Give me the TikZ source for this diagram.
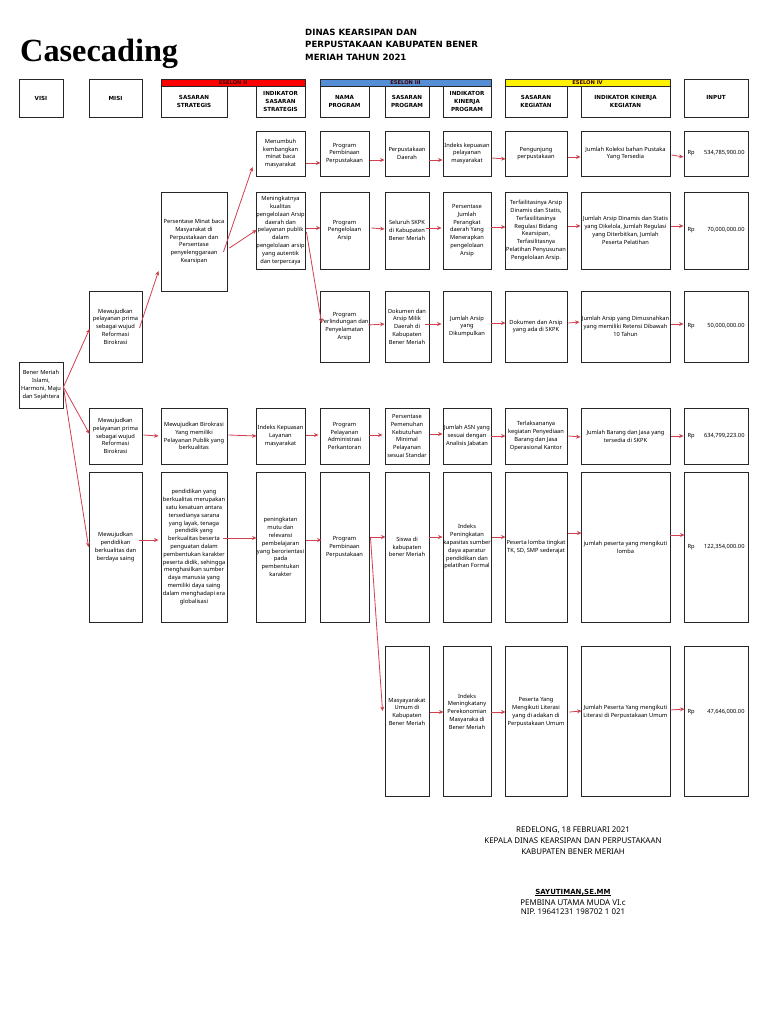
\documentclass[tikz,border=0pt]{standalone}
\usepackage{fontspec}
\setmainfont{Noto Sans}
\newfontfamily\djv{DejaVu Sans}
\newfontfamily\lserif{Liberation Serif}
\usetikzlibrary{arrows.meta}
\definecolor{linkred}{HTML}{D0404E}
\definecolor{barblue}{HTML}{558ED5}
\tikzset{
  box/.style={draw=black!85,line width=0.9pt,inner sep=0pt,align=center,font=\fontsize{5.7}{7.8}\selectfont,text=black},
  headbox/.style={box,font=\djv\fontsize{5.6}{7.8}\selectfont\bfseries},
  bar/.style={box,font=\djv\fontsize{5.2}{6}\selectfont\bfseries,text=black!75!red},
  link/.style={draw=linkred,line width=0.8pt,-{Stealth[length=4.5pt,width=4pt]}},
  sign/.style={inner sep=0pt,font=\fontsize{7.9}{9}\selectfont,text=black}
}
% box from (x1,y1) to (x2,y2)
\newcommand{\bx}[7][box]{%
  \pgfmathsetmacro{\cxx}{(#3+#5)/2}\pgfmathsetmacro{\cyy}{(#4+#6)/2}%
  \pgfmathsetmacro{\wdd}{#5-#3}\pgfmathsetmacro{\htt}{#6-#4}%
  \node[#1,minimum width=\wdd pt,minimum height=\htt pt] (#2) at (\cxx,\cyy) {#7};}
% connector: from east of a (shifted) to west of b (shifted)
\newcommand{\cn}[6]{\draw[link] ([shift={(#2,#3)}]#1.east) -- ([shift={(#5,#6)}]#4.west);}
\newcommand{\rup}{\\[11pt]\hspace{0pt}}
\newcommand{\rp}[1]{\makebox[57pt]{Rp\hfill #1}}
\begin{document}
\begin{tikzpicture}[x=1pt,y=-1pt]
\useasboundingbox (0,0) rectangle (768,1024);
\fill[white] (0,0) rectangle (768,1024);
% titles
\node[inner sep=0pt,anchor=base west,font=\lserif\fontsize{32.3}{34}\selectfont\bfseries] (title) at (20,62) {Casecading};
\node[inner sep=0pt,anchor=north west,font=\djv\fontsize{8.6}{12.6}\selectfont\bfseries,align=left] (org) at (305,28.5) {DINAS KEARSIPAN DAN\\PERPUSTAKAAN KABUPATEN BENER\\MERIAH TAHUN 2021};
% eselon bars
\bx[bar,fill=red]{e2}{161}{79}{305}{86}{ESELON II}
\bx[bar,fill=barblue]{e3}{320}{79}{491}{86}{ESELON III}
\bx[bar,fill=yellow]{e4}{505}{79}{670}{86}{ESELON IV}
% headers
\bx[headbox]{hv}{19}{79}{63}{117}{VISI}
\bx[headbox]{hm}{89}{79}{142}{117}{MISI}
\bx[headbox]{hss}{161}{86}{227}{117}{SASARAN\\STRATEGIS}
\bx[headbox]{hiss}{256}{86}{305}{117}{INDIKATOR\\SASARAN\\STRATEGIS}
\bx[headbox]{hnp}{320}{86}{369}{117}{NAMA\\PROGRAM}
\bx[headbox]{hsp}{385}{86}{429}{117}{SASARAN\\PROGRAM}
\bx[headbox]{hikp}{443}{86}{491}{117}{INDIKATOR\\KINERJA\\PROGRAM}
\bx[headbox]{hsk}{505}{86}{567}{117}{SASARAN\\KEGIATAN}
\bx[headbox]{hikk}{581}{86}{670}{117}{INDIKATOR KINERJA\\KEGIATAN}
\bx[headbox]{hin}{684}{79}{748}{117}{INPUT}
% left columns
\bx{v}{19}{362}{63}{408}{Bener Meriah\\Islami,\\Harmoni, Maju\\dan Sejahtera}
\bx{m1}{89}{291}{142}{362}{Mewujudkan\\pelayanan prima\\sebagai wujud\\Reformasi\\Birokrasi}
\bx{m2}{89}{408}{142}{464}{Mewujudkan\\pelayanan prima\\sebagai wujud\\Reformasi\\Birokrasi}
\bx{m3}{89}{472}{142}{622}{Mewujudkan\\pendidikan\\berkualitas dan\\berdaya saing}
\bx{ss1}{161}{192}{227}{291}{Persentase Minat baca\\Masyarakat di\\Perpustakaan dan\\Persentase\\penyelenggaraan\\Kearsipan}
\bx{ss2}{161}{408}{227}{464}{Mewujudkan Birokrasi\\Yang memiliki\\Pelayanan Publik yang\\berkualitas}
\bx{ss3}{161}{472}{227}{622}{pendidikan yang\\berkualitas merupakan\\satu kesatuan antara\\tersedianya sarana\\yang layak, tenaga\\pendidik yang\\berkualitas beserta\\penguatan dalam\\pembentukan karakter\\peserta didik, sehingga\\menghasilkan sumber\\daya manusia yang\\memiliki daya saing\\dalam menghadapi era\\globalisasi}
% indikator sasaran strategis
\bx{iss1}{256}{131}{305}{176}{Menumbuh\\kembangkan\\minat baca\\masyarakat}
\bx{iss2}{256}{192}{305}{269}{Meningkatnya\\kualitas\\pengelolaan Arsip\\daerah dan\\pelayanan publik\\dalam\\pengelolaan arsip\\yang autentik\\dan terpercaya}
\bx{iss4}{256}{408}{305}{464}{Indeks Kepuasan\\Layanan\\masyarakat}
\bx{iss5}{256}{472}{305}{622}{peningkatan\\mutu dan\\relevansi\\pembelajaran\\yang berorientasi\\pada\\pembentukan\\karakter}
% nama program
\bx{np1}{320}{131}{369}{176}{Program\\Pembinaan\\Perpustakaan}
\bx{np2}{320}{192}{369}{269}{Program\\Pengelolaan\\Arsip}
\bx{np3}{320}{291}{369}{362}{Program\\Perlindungan dan\\Penyelamatan\\Arsip}
\bx{np4}{320}{408}{369}{464}{Program\\Pelayanan\\Administrasi\\Perkantoran}
\bx{np5}{320}{472}{369}{622}{Program\\Pembinaan\\Perpustakaan}
% sasaran program
\bx{sp1}{385}{131}{429}{176}{Perpustakaan\\Daerah}
\bx{sp2}{385}{192}{429}{269}{Seluruh SKPK\\di Kabupaten\\Bener Meriah}
\bx{sp3}{385}{291}{429}{362}{Dokumen dan\\Arsip Milik\\Daerah di\\Kabupaten\\Bener Meriah}
\bx{sp4}{385}{408}{429}{464}{Persentase\\Pemenuhan\\Kebutuhan\\Minimal\\Pelayanan\\sesuai Standar}
\bx{sp5}{385}{472}{429}{622}{Siswa di\\kabupaten\\bener Meriah}
\bx{sp6}{385}{646}{429}{796}{Masyayarakat\\Umum di\\Kabupaten\\Bener Meriah\rup}
% indikator kinerja program
\bx{ikp1}{443}{131}{491}{176}{Indeks kepuasan\\pelayanan\\masyarakat}
\bx{ikp2}{443}{192}{491}{269}{Persentase\\Jumlah\\Perangkat\\daerah Yang\\Menerapkan\\pengelolaan\\Arsip}
\bx{ikp3}{443}{291}{491}{362}{Jumlah Arsip\\yang\\Dikumpulkan}
\bx{ikp4}{443}{408}{491}{464}{Jumlah ASN yang\\sesuai dengan\\Analisis Jabatan}
\bx{ikp5}{443}{472}{491}{622}{Indeks\\Peningkatan\\kapasitas sumber\\daya aparatur\\pendidikan dan\\pelatihan Formal}
\bx{ikp6}{443}{646}{491}{796}{Indeks\\Meningkatany\\Perekonomian\\Masyaraka di\\Bener Meriah\rup}
% sasaran kegiatan
\bx{sk1}{505}{131}{567}{176}{Pengunjung\\perpustakaan}
\bx{sk2}{505}{192}{567}{269}{Terfailitasinya Arsip\\Dinamis dan Statis,\\Terfasilitasinya\\Regulasi Bidang\\Kearsipan,\\Terfasilitasnya\\Pelatihan Penyusunan\\Pengelolaan Arsip.}
\bx{sk3}{505}{291}{567}{362}{Dokumen dan Arsip\\yang ada di SKPK}
\bx{sk4}{505}{408}{567}{464}{Terlaksananya\\kegiatan Penyediaan\\Barang dan Jasa\\Operasional Kantor}
\bx{sk5}{505}{472}{567}{622}{Peserta lomba tingkat\\TK, SD, SMP sederajat}
\bx{sk6}{505}{646}{567}{796}{Peserta Yang\\Mengikuti Literasi\\yang di adakan di\\Perpustakaan Umum\rup}
% indikator kinerja kegiatan
\bx{ikk1}{581}{131}{670}{176}{Jumlah Koleksi bahan Pustaka\\Yang Tersedia}
\bx{ikk2}{581}{192}{670}{269}{Jumlah Arsip Dinamis dan Statis\\yang Dikelola, Jumlah Regulasi\\yang Diterbitkan, Jumlah\\Peserta Pelatihan}
\bx{ikk3}{581}{291}{670}{362}{Jumlah Arsip yang Dimusnahkan\\yang memiliki Retensi Dibawah\\10 Tahun}
\bx{ikk4}{581}{408}{670}{464}{Jumlah Barang dan Jasa yang\\tersedia di SKPK}
\bx{ikk5}{581}{472}{670}{622}{jumlah peserta yang mengikuti\\lomba}
\bx{ikk6}{581}{646}{670}{796}{Jumlah Peserta Yang mengikuti\\Literasi di Perpustakaan Umum\rup}
% input
\bx{in1}{684}{131}{748}{176}{\rp{534,785,900.00}}
\bx{in2}{684}{192}{748}{269}{\rp{70,000,000.00}}
\bx{in3}{684}{291}{748}{362}{\rp{50,000,000.00}}
\bx{in4}{684}{408}{748}{464}{\rp{634,799,223.00}}
\bx{in5}{684}{472}{748}{622}{\rp{122,354,000.00}}
\bx{in6}{684}{646}{748}{796}{\rp{47,646,000.00}\rup}
% connectors
\cn{v}{0}{2}{m1}{1}{2.5}
\cn{v}{0}{2}{m2}{1}{-2}
\cn{v}{0}{2}{m3}{0}{0}
\cn{m1}{-3}{1.5}{ss1}{-2}{29.5}
\cn{ss1}{-4}{10.5}{iss1}{-3}{13.5}
\cn{ss1}{2}{6.5}{iss2}{1}{-0.5}
\cn{iss1}{1}{9.5}{np1}{1}{9.5}
\cn{np1}{1}{6.5}{sp1}{0}{6.5}
\cn{sp1}{0}{6.5}{ikp1}{0}{6.5}
\cn{ikp1}{0}{4.5}{sk1}{1}{5.5}
\cn{sk1}{1}{3.5}{ikk1}{0}{3.5}
\cn{ikk1}{1}{1.5}{in1}{0}{3.5}
\cn{iss2}{1}{-2.5}{np2}{1}{-2.5}
\cn{np2}{2}{-2.5}{sp2}{0}{-1.5}
\cn{sp2}{-3}{-2.5}{ikp2}{-1}{-2.5}
\cn{ikp2}{0}{-3.5}{sk2}{1}{-3.5}
\cn{sk2}{1}{-4.5}{ikk2}{0}{-4.5}
\cn{ikk2}{1}{-4.5}{in2}{0}{-4.5}
\cn{iss2}{1}{1.5}{np3}{2}{-3.5}
\cn{np3}{-1}{-1.5}{sp3}{0}{-2.5}
\cn{sp3}{-4}{-2.5}{ikp3}{-1}{-2.5}
\cn{ikp3}{0}{-3.5}{sk3}{1}{-3.5}
\cn{sk3}{1}{-3.5}{ikk3}{-1}{-4.5}
\cn{ikk3}{1}{-2.5}{in3}{0}{-2.5}
\cn{m2}{1}{-1}{ss2}{-2}{0}
\cn{ss2}{1}{-1}{iss4}{1}{0}
\cn{iss4}{1}{-1}{np4}{-1}{-1}
\cn{np4}{0}{-1}{sp4}{-2}{-1}
\cn{sp4}{1}{-2}{ikp4}{0}{-2}
\cn{ikp4}{0}{0}{sk4}{1}{0}
\cn{sk4}{1}{0}{ikk4}{0}{1}
\cn{ikk4}{1}{0}{in4}{0}{0}
\cn{m3}{-3}{-7}{ss3}{-2}{-7}
\cn{ss3}{-4}{-9}{iss5}{1}{-9}
\cn{iss5}{1}{-7}{np5}{2}{-7}
\cn{np5}{1}{-10}{sp5}{1}{-10}
\cn{sp5}{0}{-10}{ikp5}{0}{-10}
\cn{ikp5}{1}{-10}{sk5}{1}{-10}
\cn{sk5}{1}{-14}{ikk5}{1}{-14}
\cn{ikk5}{0}{-12}{in5}{1}{-12}
\cn{np5}{1}{-10}{sp6}{-2}{-10}
\cn{sp6}{1}{-9}{ikp6}{1}{-9}
\cn{ikp6}{0}{-9}{sk6}{1}{-9}
\cn{sk6}{2}{-9}{ikk6}{1}{-10}
\cn{ikk6}{0}{-11}{in6}{1}{-12}
% signature
\node[sign] (s1) at (573,830) {REDELONG, 18 FEBRUARI 2021};
\node[sign] (s2) at (573,841) {KEPALA DINAS KEARSIPAN DAN PERPUSTAKAAN};
\node[sign] (s3) at (573,852) {KABUPATEN BENER MERIAH};
\node[sign,font=\djv\fontsize{7}{8}\selectfont\bfseries] (s4) at (573,892) {SAYUTIMAN,SE.MM};
\draw[line width=0.8pt] (s4.south west) -- (s4.south east);
\node[sign] (s5) at (573,903) {PEMBINA UTAMA MUDA VI.c};
\node[sign] (s6) at (573,912) {NIP. 19641231 198702 1 021};
\end{tikzpicture}
\end{document}
